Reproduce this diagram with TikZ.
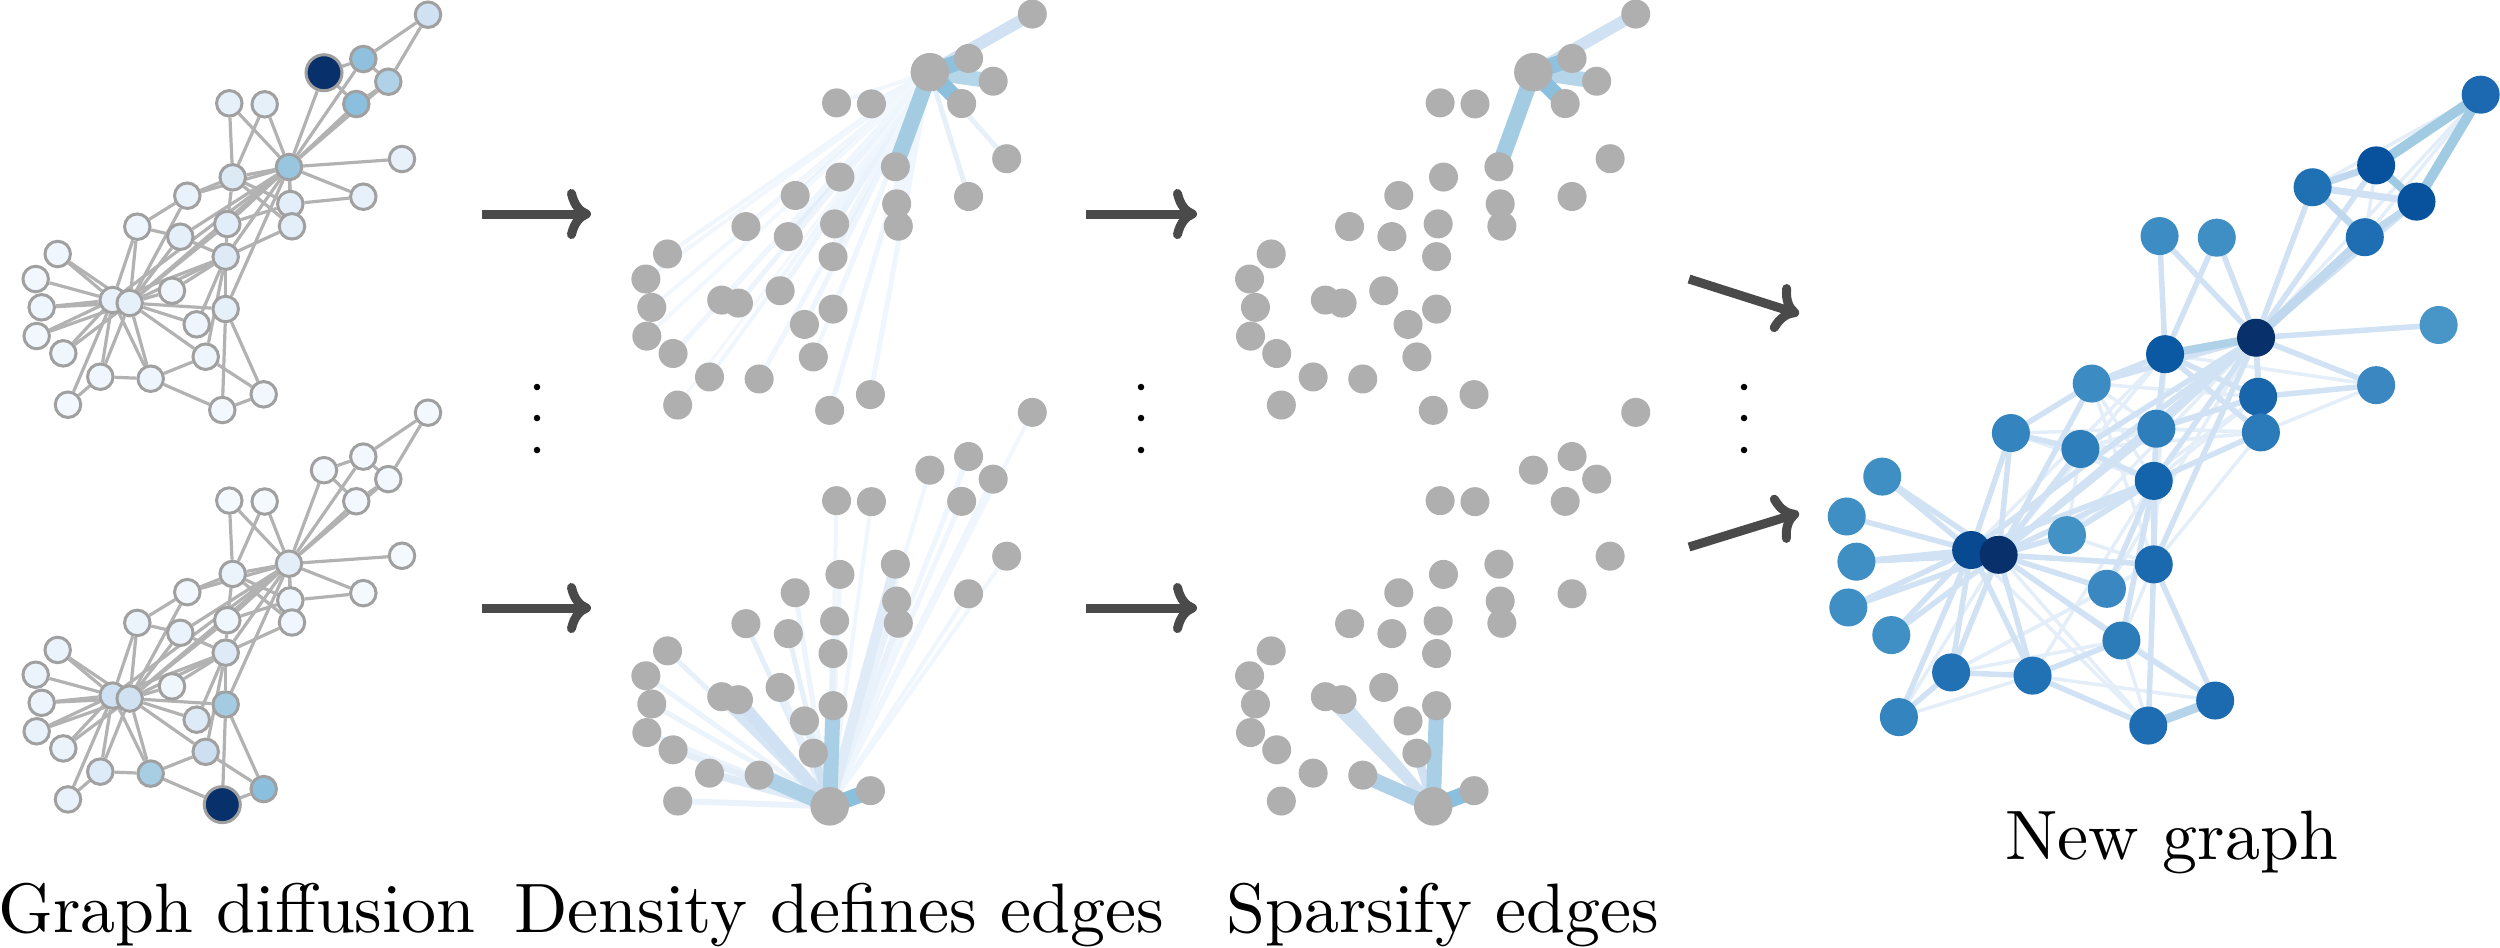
\documentclass[tikz,border=0pt]{standalone}
\usetikzlibrary{arrows.meta, backgrounds}
\definecolor{edgegray}{HTML}{B2B2B2}
\definecolor{bordergray}{HTML}{A0A0A0}
\definecolor{dotgray}{HTML}{AFAFAF}
\definecolor{arrowgray}{HTML}{4A4A4A}
\definecolor{newedge}{HTML}{D0E2F3}
\definecolor{faintedge}{HTML}{E3EEF9}

\tikzset{
    smalldot/.style={minimum size=0.255cm},
    bigdot/.style={minimum size=0.36cm},
    ringnode/.style={circle, inner sep=0pt, draw=bordergray, line width=0.03cm},
    plainnode/.style={circle, inner sep=0pt},
    graynode/.style={plainnode, fill=dotgray, minimum size=0.29cm},
    graybig/.style={plainnode, fill=dotgray, minimum size=0.385cm},
    newnode/.style={plainnode, minimum size=0.38cm},
    graphedge/.style={edgegray, line width=0.032cm},
    flowarrow/.style={arrowgray, line width=0.09cm, -{Computer Modern Rightarrow[length=0.24cm, width=0.5cm]}},
    sidedot/.style={circle, inner sep=0pt, fill=black, minimum size=0.065cm},
    caption/.style={anchor=base west, inner sep=0pt, scale=1.99},
}

% positions of the 34 nodes, in pixels
\newcommand{\nodepos}{1/428/14.7, 2/363.3/59, 3/388.3/81.7, 4/356.3/104, 5/324/72.7, 6/229.3/103.3,
    7/264.7/104.3, 8/289/167, 9/402/159, 10/363.3/196.7, 11/232.7/177.3, 12/187.3/195.7,
    13/290.3/204, 14/292/226.3, 15/227.3/224, 16/137.3/226.7, 17/180.3/236.7, 18/225.7/256.7,
    19/57.7/254, 20/35.7/279, 21/172/290.7, 22/112.7/300, 23/129.7/303, 24/225.7/309,
    25/41.7/307.3, 26/196.7/324.3, 27/36.7/336, 28/63.3/353.3, 29/205.7/356.7, 30/100.3/376.7,
    31/150.7/378.7, 32/68/404.7, 33/222.3/410, 34/263.7/394.3}

\newcommand{\graphedges}{1/2, 1/3, 2/3, 2/5, 2/8, 3/8, 4/8, 3/4, 4/5, 5/8, 6/8, 6/11, 7/8, 7/11, 8/9, 8/10,
    10/13, 8/13, 8/11, 8/12, 11/12, 11/15, 11/14, 11/13, 13/15, 8/15, 8/17, 8/18, 8/14, 8/24, 8/23, 8/22,
    14/18, 12/16, 12/23, 16/17, 16/22, 16/23, 17/18, 17/23, 15/23, 15/18, 18/23, 18/22, 18/21, 21/23,
    18/24, 18/26, 18/29, 23/24, 23/26, 23/29, 23/31, 22/31, 22/30, 23/30, 22/32, 30/32, 30/31, 29/31,
    31/33, 29/34, 33/34, 24/33, 24/34, 19/22, 19/23, 20/22, 25/22, 25/23, 27/22, 27/23, 28/22, 28/23}

% prefix, colour list, index of the big node
\newcommand{\ringnodes}[3]{
    \foreach \i/\x/\y in \nodepos {
        \pgfmathparse{{#2}[\i-1]}\edef\nodehex{\pgfmathresult}
        \definecolor{nodecol}{HTML}{\nodehex}
        \edef\nodesize{\ifnum\i=#3 bigdot\else smalldot\fi}
        \node[ringnode, \nodesize, fill=nodecol] (#1\i) at (\x,\y) {};
    }
    \begin{scope}[on background layer]
        \foreach \a/\b in \graphedges {
            \draw[graphedge] (#1\a) -- (#1\b);
        }
    \end{scope}
}

% prefix, index of the big node
\newcommand{\graynodes}[2]{
    \foreach \i/\x/\y in \nodepos {
        \edef\nodesize{\ifnum\i=#2 graybig\else graynode\fi}
        \node[\nodesize] (#1\i) at (\x,\y) {};
    }
}

% prefix, centre of the star, target/colour/width list
\newcommand{\staredges}[3]{
    \begin{scope}[on background layer]
        \foreach \n/\c/\w in {#3} {
            \definecolor{edgecol}{HTML}{\c}
            \draw[edgecol, line width=\w*0.01cm] (#1#2.center) -- (#1\n.center);
        }
    \end{scope}
}

\begin{document}
\begin{tikzpicture}[x=0.01cm, y=-0.01cm]
    \useasboundingbox (0,0) rectangle (2500,947);

    % diffusion from two nodes
    \ringnodes{a}{"CFE1F2","8FC1DE","B0D2E8","8ABFDD","08306B","E6F0F9","E6F0F9","98C6DF","E8F1FA","E8F1FA",
        "DCEAF6","E9F2FA","E3EEF8","E3EEF8","E1EDF8","EEF5FC","E5EFF9","DEEBF7","F0F6FD","F2F7FD",
        "F0F6FC","E8F1FA","E5F0F9","E6F0F9","F0F6FD","EFF5FC","F1F7FD","EFF6FC","EEF5FC","F0F6FD",
        "EEF5FC","F3F8FE","F3F8FE","F1F7FD"}{5}
    \begin{scope}[shift={(0,398.1)}, yscale=0.9915]
        \ringnodes{b}{"F3F8FE","F3F8FE","F3F8FE","F3F8FE","F3F8FE","F4F9FE","F4F9FE","E3EEF8","F4F9FE","F4F9FE",
            "EBF3FB","F1F7FD","EFF5FC","F0F6FD","EFF6FC","EBF3FB","EAF3FB","DEEBF7","EAF3FB","EBF3FB",
            "EFF6FC","CFE1F2","D0E2F2","A3CCE3","EDF4FC","DEEBF7","E9F2FA","EBF3FB","CDDFF1","DDEAF7",
            "A8CEE4","E9F2FA","08306B","8ABFDD"}{33}
    \end{scope}

    % density defines edges
    \begin{scope}[shift={(610.7,-0.7)}, xscale=0.985, yscale=1.0025]
        \graynodes{c}{5}
        \staredges{c}{5}{6/F2F7FD/4, 7/EFF6FD/5, 11/E9F2FA/6, 12/EAF3FB/6, 13/F0F6FD/6, 14/EFF6FD/6, 15/EAF3FB/7,
            16/EFF5FC/5, 17/E3EEF9/8, 18/E8F1FA/6, 19/F0F6FD/4, 20/F2F7FD/4, 21/EEF5FC/5, 22/EEF5FC/5, 23/EDF4FC/5,
            24/EEF5FC/5, 25/F2F7FD/4, 26/EFF5FC/5, 27/F3F8FE/4, 28/F0F6FD/5, 29/F0F6FD/4, 30/F0F6FD/4, 31/F0F6FD/5,
            32/F3F8FE/3, 33/EFF5FC/5, 34/F0F6FD/5, 9/E8F1FA/5, 10/E6F0F9/5, 1/CFE1F2/12, 3/B5D5E9/15, 2/8FC1DE/16,
            4/8ABFDD/16, 8/A3CCE3/16}
    \end{scope}
    \begin{scope}[shift={(610.7,397.7)}, xscale=0.985, yscale=0.9966]
        \graynodes{d}{33}
        \staredges{d}{33}{1/F2F7FD/4, 2/F0F6FD/5, 3/F0F6FD/6, 4/F0F6FD/5, 5/F0F6FD/4, 6/F0F6FD/4, 7/F0F6FD/4, 9/F0F6FD/4,
            10/F0F6FD/4, 11/EFF6FD/5, 12/EDF4FC/5, 13/E9F2FA/6, 14/E9F2FA/6, 15/F0F6FD/5, 16/E5EFF9/5, 17/E6F0F9/5,
            18/E6F0F9/6, 19/E8F1FA/5, 20/EBF3FB/5, 21/E8F1FA/5, 25/EBF3FB/5, 26/E1EDF8/6, 27/EBF3FB/5, 28/E3EEF9/6,
            32/EAF3FB/6, 8/DFEBF7/10, 30/DFEBF7/8, 22/D5E5F4/10, 23/CFE1F2/12, 29/D0E2F2/8, 31/AFD1E7/15, 24/A8CFE5/15,
            34/8ABFDD/16}
    \end{scope}

    % sparsified edges
    \begin{scope}[shift={(1214.4,-0.7)}, xscale=0.9844, yscale=1.0025]
        \graynodes{e}{5}
        \staredges{e}{5}{1/CFE1F2/12, 3/B5D5E9/15, 2/8FC1DE/16, 4/8ABFDD/16, 8/A3CCE3/16}
    \end{scope}
    \begin{scope}[shift={(1214.4,397.7)}, xscale=0.9844, yscale=0.9966]
        \graynodes{f}{33}
        \staredges{f}{33}{22/D0E2F2/9, 23/D0E2F2/9, 29/CFE1F2/9, 31/AFD1E7/15, 24/A8CFE5/15, 34/8ABFDD/16}
    \end{scope}

    % new graph
    \begin{scope}[shift={(1789,71.2)}, xscale=1.616, yscale=1.596]
        \foreach \i/\x/\y in \nodepos {
            \pgfmathparse{{"1C69B1","08529D","08529D","1F6DB2","2070B4","3D8DC4","3F8FC5","08306B","4896C8","3A87C1",
                "0B59A2","3D8BC3","1865AC","2B7BBA","2E7EBB","3484BF","2E7EBB","1364AA","3F8EC4","3F8FC5",
                "4292C6","084A91","08306B","1B69AF","3F8FC5","3A87C1","3F8FC5","4090C5","2C7CBA","2271B5",
                "2171B5","3484BF","1E6DB2","1C6AB0"}[\i-1]}\edef\nodehex{\pgfmathresult}
            \definecolor{nodecol}{HTML}{\nodehex}
            \node[newnode, fill=nodecol] (g\i) at (\x,\y) {};
        }
        \begin{scope}[on background layer]
            \foreach \a/\b in {1/5, 1/4, 1/8, 2/4, 3/5, 10/11, 10/14, 14/15, 12/15, 12/18, 15/17, 17/21, 30/24, 30/29, 30/26,
                32/31, 32/22, 32/23, 30/22, 31/34, 31/18, 23/33, 22/33, 23/34, 29/33, 29/24, 24/26, 13/18, 14/24, 12/13,
                12/24, 17/13, 17/14, 16/18, 16/15, 21/8, 21/24, 21/13, 15/14, 15/24, 26/8, 11/24, 11/18, 11/23, 11/22} {
                \draw[faintedge, line width=0.035cm] (g\a.center) -- (g\b.center);
            }
            \foreach \a/\b in \graphedges {
                \draw[newedge, line width=0.055cm] (g\a.center) -- (g\b.center);
            }
            \foreach \a/\b/\c/\w in {2/5/BFD8ED/7, 4/5/BFD8ED/7, 3/5/CFE1F2/7, 3/4/BFD8ED/7, 4/8/BFD8ED/9,
                8/11/B0D2E8/8, 33/34/B5D4E9/9, 2/3/9FCAE1/8, 1/2/A0CBE2/10, 1/3/A0CBE2/10} {
                \definecolor{edgecol}{HTML}{\c}
                \draw[edgecol, line width=\w*0.01cm] (g\a.center) -- (g\b.center);
            }
        \end{scope}
    \end{scope}

    % arrows between the steps
    \foreach \n/\x/\y/\u/\v in {1/482/214/591/214, 2/482/608/591/608, 3/1086/214/1197/214, 4/1086/608/1197/608,
        5/1689/279/1799/314, 6/1689/547/1799/513} {
        \coordinate (start\n) at (\x,\y);
        \coordinate (end\n) at (\u,\v);
        \draw[flowarrow] (start\n) -- (end\n);
    }

    % three dots between the rows
    \foreach \k/\x in {1/537, 2/1141, 3/1744} {
        \foreach \m/\y in {1/387, 2/418, 3/450} {
            \node[sidedot] (dot\k\m) at (\x,\y) {};
        }
    }

    \node[caption] (capa) at (-3,932.7) {Graph diffusion};
    \node[caption] (capb) at (513,932.7) {Density defines edges};
    \node[caption] (capc) at (1225,932.7) {Sparsify edges};
    \node[caption] (capd) at (2004,859) {New graph};
\end{tikzpicture}
\end{document}
